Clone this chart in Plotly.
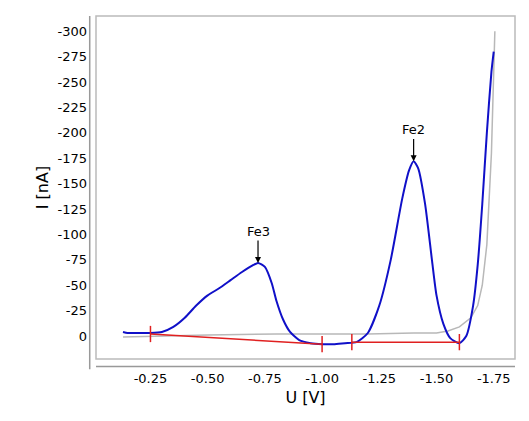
import plotly.graph_objects as go

blue_u = [-0.13,-0.15,-0.2,-0.25,-0.3,-0.35,-0.4,-0.45,-0.5,-0.55,-0.6,-0.65,-0.7,-0.72,-0.75,-0.78,-0.8,-0.83,-0.86,-0.9,-0.95,-1.0,-1.05,-1.1,-1.15,-1.2,-1.25,-1.3,-1.35,-1.38,-1.4,-1.42,-1.45,-1.48,-1.5,-1.53,-1.56,-1.6,-1.63,-1.66,-1.68,-1.7,-1.72,-1.74,-1.75]
blue_i = [-4,-3,-3,-3,-4,-9,-18,-30,-40,-47,-55,-63,-70,-72,-68,-52,-35,-16,-4,4,7,8,8,7,6,-3,-30,-75,-135,-163,-172,-165,-130,-75,-40,-12,2,7,0,-30,-70,-130,-200,-260,-280]
gray_u = [-0.13,-0.3,-0.5,-0.8,-1.0,-1.2,-1.4,-1.5,-1.55,-1.6,-1.65,-1.68,-1.7,-1.72,-1.74,-1.75,-1.755]
gray_i = [1,0,-1,-2,-2,-2,-3,-3,-5,-9,-18,-30,-50,-90,-180,-260,-300]
red_u = [-0.25,-1.0,None,-1.13,-1.6]
red_i = [-2,8,None,6,6]
tick_u = [-0.25,-1.0,-1.13,-1.6]
tick_i = [-2,8,6,6]
peaks = [("Fe3",-0.72,-72),("Fe2",-1.40,-172)]
y_ticks = list(range(0,-301,-25))
x_ticks = [-0.25,-0.5,-0.75,-1.0,-1.25,-1.5,-1.75]

fig = go.Figure()
fig.add_trace(go.Scatter(x=gray_u,y=gray_i,mode="lines",line=dict(color="#b8b8b8",width=1.5)))
fig.add_trace(go.Scatter(x=blue_u,y=blue_i,mode="lines",line=dict(color="#1010c8",width=2,shape="spline",smoothing=0.6)))
fig.add_trace(go.Scatter(x=red_u,y=red_i,mode="lines",line=dict(color="#e02020",width=1.5)))
for u,i in zip(tick_u,tick_i):
    fig.add_trace(go.Scatter(x=[u,u],y=[i-8,i+8],mode="lines",line=dict(color="#e02020",width=1.5)))
for name,u,i in peaks:
    fig.add_annotation(x=u,y=i,ax=u,ay=i-22,xref="x",yref="y",axref="x",ayref="y",
                       text=name,showarrow=True,arrowhead=2,arrowsize=1,arrowwidth=1.2,arrowcolor="black",
                       yanchor="bottom",font=dict(size=13,color="black"))
fig.add_shape(type="rect",xref="paper",yref="paper",x0=0,x1=1,y0=0,y1=1,line=dict(color="#bbbbbb",width=1.5))
fig.add_shape(type="line",xref="paper",yref="paper",x0=-0.015,x1=-0.015,y0=-0.03,y1=1.0,line=dict(color="#999999",width=1.5))
fig.add_shape(type="line",xref="paper",yref="paper",x0=0,x1=1,y0=-0.022,y1=-0.022,line=dict(color="#999999",width=1.5))
fig.update_layout(width=529,height=421,margin=dict(l=88,r=22,t=8,b=70),
                  plot_bgcolor="white",paper_bgcolor="white",showlegend=False,
                  font=dict(family="DejaVu Sans",size=13,color="black"))
fig.update_xaxes(range=[-0.012,-1.843],tickvals=x_ticks,
                 ticktext=["%.2f" % v for v in x_ticks],
                 showgrid=False,zeroline=False,ticks="",ticklabelstandoff=10,title=dict(text="U [V]",standoff=6))
fig.update_yaxes(range=[22.6,-315],tickvals=y_ticks,ticktext=[str(v) for v in y_ticks],showgrid=False,zeroline=False,
                 ticks="",ticklabelstandoff=8,title=dict(text="I [nA]",standoff=4))
fig.write_html("out.html")
